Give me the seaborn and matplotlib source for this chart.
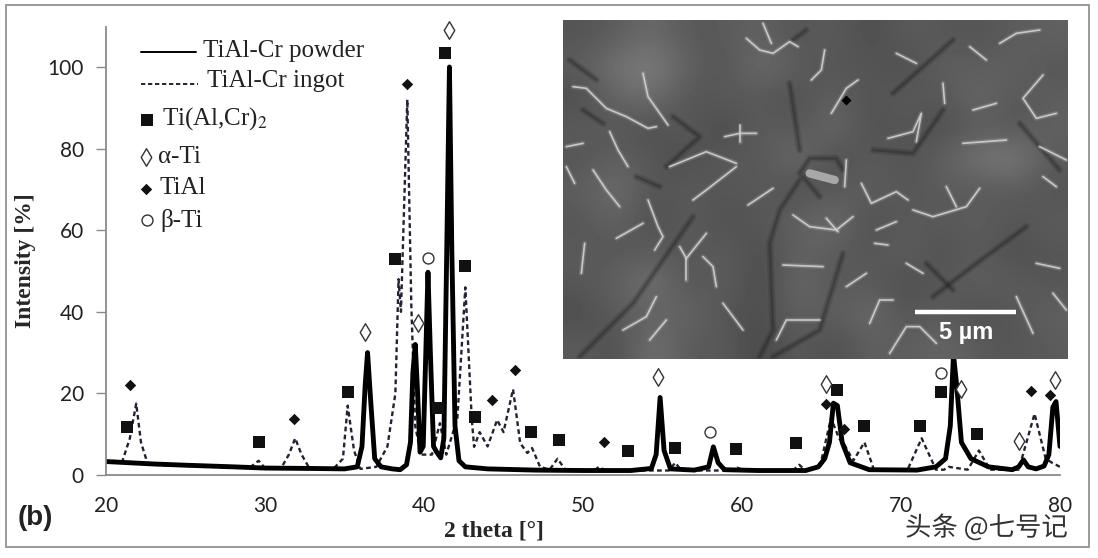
import matplotlib
matplotlib.use('Agg')
import matplotlib.pyplot as plt
import matplotlib.patheffects as pe
from matplotlib.patches import Rectangle
import numpy as np
import pandas as pd
import seaborn as sns

# === data ===
powder_x = [20, 21, 23, 25, 28, 30, 33, 35, 35.8, 36.1, 36.3, 36.45, 36.65, 36.9, 37.3, 38, 38.5, 38.9, 39.15, 39.3,
            39.45, 39.6, 39.75, 39.95, 40.1, 40.25, 40.4, 40.6, 40.8, 41.05, 41.25, 41.45, 41.6, 41.75, 41.95, 42.2, 42.6,
            44, 47, 50, 53, 54.3, 54.6, 54.85, 55.1, 55.5, 57, 57.9, 58.2, 58.5, 58.9, 61, 64, 64.8, 65.2, 65.5,
            65.75, 66, 66.3, 66.8, 68, 71, 72.2, 72.8, 73.1, 73.3, 73.5, 73.8, 74.4, 75.5, 77, 77.4, 77.7, 78,
            78.5, 79, 79.3, 79.55, 79.75, 80]
powder_y = [3.3, 3.1, 2.7, 2.4, 2.0, 1.7, 1.6, 1.5, 2.0, 7, 22, 30, 18, 4, 2, 1.5, 1.3, 2.5, 8, 25,
            32, 20, 5.6, 7, 28, 49.7, 30, 7, 5.6, 4.2, 9, 60, 100, 55, 12, 3.5, 2,
            1.5, 1.2, 1.1, 1.1, 1.6, 5, 19, 6, 1.5, 1.2, 2, 6.9, 3, 1.3, 1.1, 1.1, 2, 4, 8,
            17.6, 17, 8, 3, 1.3, 1.2, 2, 4, 12, 29.5, 22, 8, 4, 2, 1.3, 2, 3.7, 2,
            1.5, 2.2, 5, 16.6, 18, 7]

ingot_x = [20, 21, 21.5, 21.9, 22.2, 22.6, 23, 29, 29.6, 30, 31, 31.5, 31.9, 32.3, 32.8, 34.3, 34.9, 35.2, 35.6, 36,
           37, 37.7, 38.2, 38.4, 38.55, 38.95, 39.2, 39.45, 39.8, 40.5, 41, 41.4, 42.1, 42.6, 43, 43.15, 43.5, 44,
           44.6, 45, 45.6, 46.05, 46.5, 46.8, 47.3, 47.9, 48.4, 48.9, 50.7, 51, 51.4, 55.4, 55.8, 56.2, 59.4, 59.7,
           60.1, 63.2, 63.6, 64, 64.9, 65.6, 66.1, 66.5, 67, 67.7, 68.3, 70.4, 71.3, 72.2, 72.7, 73, 74.2, 74.9, 75.6,
           77.4, 78.4, 79.1, 79.5, 80]
ingot_y = [3.2, 3, 9, 17.5, 8, 3, 2.5, 1.7, 3.5, 1.7, 1.6, 5, 9, 5, 1.6, 1.5, 4, 17, 6, 1.5,
           2, 7, 20, 48, 40, 92, 42, 12, 5, 5, 12.7, 5, 14, 46, 14, 6.9, 10.5, 7,
           13.5, 10.5, 21, 7.8, 5.4, 6.6, 2, 1.3, 4, 1.2, 1.1, 2, 1.1, 1.1, 3, 1.1, 1.1, 1.8,
           1.1, 1.1, 2.5, 1.1, 2, 14, 9, 7, 3.5, 8, 1.3, 1.2, 9, 1.3, 1.3, 2, 1.3, 6, 1.3,
           1.3, 15, 4, 3, 2]

square_x = [21.3, 29.6, 35.2, 38.2, 40.9, 41.3, 42.6, 43.2, 46.7, 48.5, 52.8, 55.8, 59.6, 63.4, 66, 67.7, 71.2, 72.5, 74.8]
square_y = [11.8, 8.2, 20.3, 53, 16.5, 103.5, 51.2, 14.2, 10.5, 8.7, 5.9, 6.7, 6.4, 7.8, 20.8, 12, 12, 20.3, 10]
alpha_x = [36.3, 39.6, 41.6, 54.7, 65.3, 73.8, 77.4, 79.7]
alpha_y = [35, 37.3, 109, 24, 22.3, 21, 8.3, 23.3]
tial_x = [21.5, 31.8, 38.9, 44.3, 45.7, 51.3, 65.3, 66.4, 78.2, 79.4]
tial_y = [22, 13.7, 95.8, 18.4, 25.7, 8, 17.4, 11.3, 20.6, 19.6]
beta_x = [40.25, 58, 72.5]
beta_y = [53.2, 10.5, 25]

y_ticks = [0, 20, 40, 60, 80, 100]
x_ticks = [20, 30, 40, 50, 60, 70, 80]

# micrograph: coarse grey levels and the bright / dark features seen in it
grey_levels = [
    [.33, .36, .42, .34, .36, .38, .33, .36, .30, .36, .34, .33, .36, .38],
    [.36, .46, .50, .38, .32, .44, .36, .33, .34, .30, .38, .36, .38, .34],
    [.30, .40, .44, .32, .36, .34, .31, .38, .32, .36, .33, .42, .34, .37],
    [.36, .34, .30, .36, .28, .38, .33, .42, .31, .34, .30, .36, .33, .38],
    [.33, .38, .34, .30, .36, .33, .44, .30, .36, .32, .38, .46, .50, .35],
    [.37, .44, .32, .36, .33, .36, .30, .34, .38, .33, .36, .34, .36, .33],
    [.33, .40, .30, .36, .31, .34, .38, .44, .30, .36, .34, .38, .33, .36],
    [.36, .33, .36, .34, .36, .30, .38, .36, .33, .38, .31, .36, .30, .34],
    [.34, .38, .46, .32, .38, .28, .42, .34, .36, .30, .34, .38, .36, .33],
    [.30, .36, .38, .40, .33, .30, .38, .36, .42, .33, .36, .30, .34, .38],
    [.36, .30, .46, .34, .36, .27, .36, .30, .38, .36, .40, .36, .33, .36],
]
bright_veins = [
    [(40, 230), (80, 235), (110, 265), (140, 295), (200, 320), (265, 355), (290, 350)],
    [(250, 190), (265, 260), (325, 345)], [(150, 365), (175, 420), (205, 470)],
    [(560, 85), (600, 120), (640, 130), (690, 95), (715, 110)], [(610, 40), (635, 100)],
    [(795, 120), (785, 180), (755, 210)], [(815, 310), (860, 235), (895, 210)],
    [(495, 380), (540, 370), (590, 370)], [(540, 345), (540, 395)],
    [(985, 385), (1060, 365), (1085, 310), (1070, 395)],
    [(1450, 195), (1390, 265), (1430, 325), (1490, 310)], [(1230, 110), (1280, 150)],
    [(1320, 100), (1370, 70), (1440, 60)], [(905, 520), (935, 580), (1010, 545), (1045, 570)],
    [(1060, 600), (1120, 620), (1220, 590), (1260, 535)], [(1160, 530), (1190, 590)],
    [(700, 615), (750, 650), (830, 660), (880, 620)], [(800, 625), (835, 665)],
    [(400, 570), (440, 540), (530, 470)], [(565, 585), (640, 535)],
    [(265, 570), (295, 650), (310, 680), (285, 720)], [(170, 685), (250, 640)],
    [(360, 710), (380, 745), (440, 670)], [(380, 745), (380, 810)],
    [(430, 740), (460, 770), (470, 830)], [(490, 880), (550, 960)], [(75, 700), (65, 790)],
    [(190, 960), (260, 920), (290, 860)], [(650, 990), (680, 930), (780, 930)],
    [(930, 940), (960, 870), (1000, 870)], [(990, 1030), (1040, 950), (1080, 950), (1130, 1000)],
    [(1370, 860), (1420, 970)], [(100, 480), (140, 540), (180, 590)],
    [(330, 470), (440, 425), (530, 460)], [(950, 660), (1010, 635)], [(945, 700), (985, 705)],
    [(1440, 410), (1520, 450)], [(860, 450), (855, 530)], [(1150, 220), (1155, 280)],
    [(1210, 400), (1340, 390)], [(670, 765), (790, 770)], [(270, 990), (320, 930)],
    [(20, 410), (70, 400)], [(20, 470), (45, 520)], [(1480, 850), (1520, 900)],
    [(1040, 760), (1090, 790)], [(860, 830), (920, 790)], [(1430, 760), (1500, 775)],
    [(1240, 300), (1310, 280)], [(1450, 500), (1490, 530)], [(1010, 130), (1070, 160)],
]
dark_cracks = [
    [(600, 1040), (640, 960), (630, 700), (660, 600), (720, 510)],
    [(720, 490), (750, 445), (830, 445), (850, 480)], [(730, 500), (780, 560)],
    [(690, 220), (720, 420)], [(340, 320), (420, 380), (320, 470)], [(1000, 250), (1180, 90)],
    [(940, 420), (1060, 430), (1150, 300)], [(850, 730), (780, 960), (640, 1040)],
    [(1100, 760), (1180, 840)], [(230, 500), (300, 530)], [(30, 150), (110, 210)],
    [(60, 1040), (220, 880), (400, 620)], [(1400, 650), (1250, 760), (1120, 860)],
    [(700, 90), (740, 60)], [(130, 340), (70, 300)], [(1380, 340), (1500, 480)],
]
blob_x = [750, 825]
blob_y = [490, 510]
dot_x = [860]
dot_y = [270]

powder = pd.DataFrame({'x': powder_x, 'y': powder_y})
ingot = pd.DataFrame({'x': ingot_x, 'y': ingot_y})

sns.set_theme(style='white')
plt.rcParams['font.family'] = ['Liberation Serif', 'DejaVu Sans']

W, H = 1098, 558
fig = plt.figure(figsize=(W / 100, H / 100), dpi=100)
ax = fig.add_axes([106 / W, 1 - 475 / H, (1060 - 106) / W, (475 - 27) / H])

# === curves ===
sns.lineplot(data=ingot, x='x', y='y', ax=ax, sort=False, errorbar=None, color='#222233',
             linewidth=1.7, linestyle=(0, (2.0, 1.4)))
sns.lineplot(data=powder, x='x', y='y', ax=ax, sort=False, errorbar=None, color='black', linewidth=3.5)

# === phase markers ===
ink = '#111111'
sns.scatterplot(x=square_x, y=square_y, ax=ax, marker='s', s=85, color=ink, linewidth=0, zorder=5, clip_on=False)
sns.scatterplot(x=tial_x, y=tial_y, ax=ax, marker='D', s=34, color=ink, linewidth=0, zorder=5, clip_on=False)
sns.scatterplot(x=alpha_x, y=alpha_y, ax=ax, marker='d', s=80, facecolor='white', edgecolor='#333333',
                linewidth=1, zorder=5, clip_on=False)
sns.scatterplot(x=beta_x, y=beta_y, ax=ax, marker='o', s=62, facecolor='white', edgecolor='#333333',
                linewidth=1, zorder=5, clip_on=False)

# === axes ===
ax.set_xlim(20, 80)
ax.set_ylim(0, 448 / 4.08)
ax.set_xticks(x_ticks)
ax.set_yticks(y_ticks)
ax.set_xlabel('2 theta [°]', fontsize=17, fontweight='bold')
ax.set_ylabel('Intensity [%]', fontsize=17, fontweight='bold')
ax.xaxis.set_label_coords((494 - 106) / 954, -45 / 448)
ax.yaxis.set_label_coords((36 - 106) / 954, (475 - 261) / 448)
ax.patch.set_alpha(0)
for side in ['top', 'right']:
    ax.spines[side].set_visible(False)
for side in ['left', 'bottom']:
    ax.spines[side].set_color('#8a8a8a')
    ax.spines[side].set_linewidth(1.3)
ax.tick_params(axis='y', left=True, length=7, width=1, color='#8a8a8a', pad=9)
ax.tick_params(axis='x', bottom=False, pad=9)
for label in ax.get_xticklabels() + ax.get_yticklabels():
    label.set_fontfamily('Lato')
    label.set_fontsize(15)
    label.set_color('#222222')

# === micrograph inset ===
inset = fig.add_axes([563 / W, 1 - 359 / H, (1068 - 563) / W, (359 - 20) / H])
inset.imshow(grey_levels, cmap='gray', vmin=0, vmax=1, aspect='auto', interpolation='bicubic',
             extent=(10, 1525, 1047, 30))
for path in dark_cracks:
    xs, ys = zip(*path)
    inset.plot(xs, ys, color='#151515', linewidth=5, alpha=0.16, solid_capstyle='round')
    inset.plot(xs, ys, color='#151515', linewidth=2, alpha=0.25, solid_capstyle='round')
for path in bright_veins:
    xs, ys = zip(*path)
    inset.plot(xs, ys, color='#b0b0b0', linewidth=3.4, alpha=0.28, solid_capstyle='round')
    inset.plot(xs, ys, color='#d8d8d8', linewidth=1.2, alpha=0.85, solid_capstyle='round')
inset.plot(blob_x, blob_y, color='#a8a8a8', linewidth=6, solid_capstyle='round')
inset.scatter(dot_x, dot_y, marker='D', s=26, color='black', linewidths=0, zorder=4)
inset.plot([1065, 1368], [905, 905], color='white', linewidth=3.2, solid_capstyle='butt')
inset.text(1220, 968, '5 µm', color='white', fontsize=17, fontweight='bold', ha='center', va='center',
           family=['Liberation Sans', 'DejaVu Sans'])
inset.set_xlim(10, 1525)
inset.set_ylim(1047, 30)
inset.set_xticks([])
inset.set_yticks([])
for spine in inset.spines.values():
    spine.set_visible(False)

# === overlay in pixel coordinates: frame, legend, (b), watermark ===
over = fig.add_axes([0, 0, 1, 1], zorder=10)
over.set_xlim(0, W)
over.set_ylim(H, 0)
over.axis('off')
over.patch.set_alpha(0)
over.add_patch(Rectangle((6, 5), 1083, 542, fill=False, edgecolor='#9a9a9a', linewidth=1.4))

legend_font = 18
over.plot([141, 196], [52, 52], color='black', linewidth=1.4)
over.text(203, 51, 'TiAl-Cr powder', fontsize=legend_font, va='center', color='#222222')
over.plot([141, 198], [84, 84], color='#222233', linewidth=1.4, linestyle=(0, (2.2, 1.4)))
over.text(207, 81, 'TiAl-Cr ingot', fontsize=legend_font, va='center', color='#222222')
over.scatter([147], [120], marker='s', s=85, color=ink, linewidths=0)
over.text(162, 119, 'Ti(Al,Cr)$_2$', fontsize=legend_font, va='center', color='#222222', math_fontfamily='stix')
over.scatter([146], [157], marker='d', s=80, facecolor='white', edgecolor='#333333', linewidths=1)
over.text(158, 157, 'α-Ti', fontsize=legend_font, va='center', color='#222222')
over.scatter([146], [189], marker='D', s=34, color=ink, linewidths=0)
over.text(159, 188, 'TiAl', fontsize=legend_font, va='center', color='#222222')
over.scatter([147], [220], marker='o', s=62, facecolor='white', edgecolor='#333333', linewidths=1)
over.text(160, 221, 'β-Ti', fontsize=legend_font, va='center', color='#222222')

over.text(18, 518, '(b)', fontsize=20, fontweight='bold', va='center', color='#222222',
          family=['Liberation Sans', 'DejaVu Sans'])
over.text(905, 528, '头条 @七号记', fontsize=19, va='center', color='#333333',
          family=['Noto Sans CJK SC', 'DejaVu Sans'],
          path_effects=[pe.withStroke(linewidth=2, foreground='white')])

fig.savefig('out.png', dpi=100, facecolor='white')
plt.close(fig)
